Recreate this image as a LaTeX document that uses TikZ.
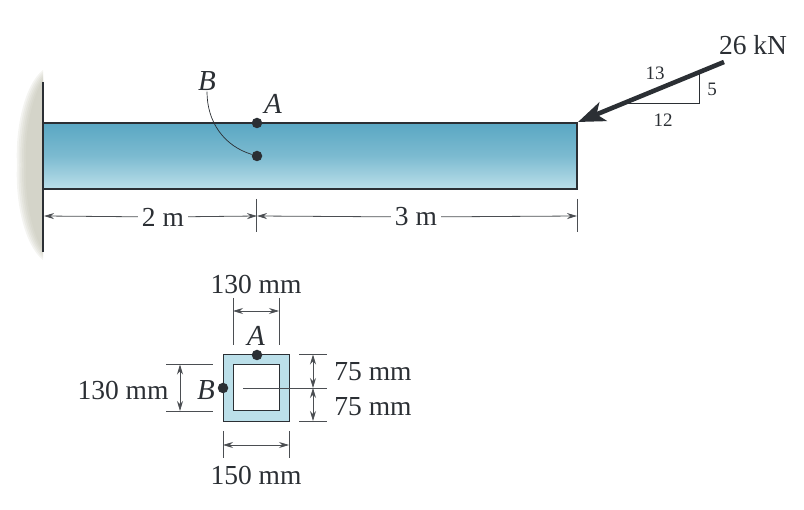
\documentclass[tikz,border=0pt]{standalone}
\usepackage{fontspec}
\setmainfont{Liberation Serif}
\usetikzlibrary{arrows.meta}
\definecolor{inkline}{HTML}{2B2F34}
\definecolor{beamtop}{HTML}{5AA7C3}
\definecolor{beambot}{HTML}{BBDFE9}
\definecolor{wallgrey}{HTML}{D2D2C6}
\tikzset{
  biglabel/.style={font=\fontsize{27.5}{27.5}\selectfont,text=inkline,inner sep=1pt},
  ptlabel/.style={font=\fontsize{29}{29}\selectfont\itshape,text=inkline,inner sep=1pt},
  smalllabel/.style={font=\fontsize{19}{19}\selectfont,text=inkline,inner sep=1pt},
  gaplabel/.style={biglabel,inner xsep=4pt},
  ptdot/.style={circle,fill=inkline,inner sep=0pt,minimum size=10.5pt},
  dimline/.style={draw=inkline!85,line width=0.8pt},
  dimarrow/.style={dimline,>={Stealth[length=10pt,width=6pt]}},
  member/.style={draw=inkline,line width=1.6pt}
}
\begin{document}
\begin{tikzpicture}[x=1pt,y=-1pt]
\useasboundingbox (0,0) rectangle (804,510);
\foreach \w/\o in {0/0.25,2/0.25,4/0.3,6/0.35,8/0.45,10/0.6}{
  \fill[wallgrey,opacity=\o] (43,{70+\w}) .. controls ({24+\w*0.9},{85+\w}) and ({15+\w*0.9},130) .. ({17+\w*0.9},165) .. controls ({15+\w*0.9},200) and ({24+\w*0.9},{245-\w}) .. (43,{260-\w}) -- cycle;
}
\fill[top color=beamtop,bottom color=beambot,middle color=beamtop!65!beambot] (43,123) rectangle (577,189);
\draw[member] (43,123) rectangle (577,189);
\coordinate (wallT) at (43,82);
\coordinate (wallB) at (43,252);
\draw[inkline,line width=1.8pt] (wallT) -- (wallB);
\node[ptdot] (ptA) at (257,123) {};
\node[ptdot] (ptB) at (257,156) {};
\node[ptlabel] (labB) at (207,81) {B};
\node[ptlabel] (labA) at (273,104) {A};
\draw[inkline,line width=0.7pt] (labB.south) .. controls (207,122) and (224,146) .. (ptB);
\coordinate (dimL) at (44,216);
\coordinate (dimM) at (257,216);
\coordinate (dimR) at (577,216);
\coordinate (tickMT) at (256,199);
\coordinate (tickMB) at (256,232);
\coordinate (tickRT) at (577,199);
\coordinate (tickRB) at (577,232);
\draw[dimline] (tickMT) -- (tickMB);
\draw[dimline] (tickRT) -- (tickRB);
\node[gaplabel] (lab2m) at (163,217) {2 m};
\node[gaplabel] (lab3m) at (416,217) {3 m};
\draw[dimarrow,<-] (dimL) -- (lab2m);
\draw[dimarrow,->] (lab2m) -- (dimM);
\draw[dimarrow,<-] (dimM) -- (lab3m);
\draw[dimarrow,->] (lab3m) -- (dimR);
\coordinate (forceS) at (724,62);
\coordinate (forceE) at (578,122);
\coordinate (triT) at (699,72);
\coordinate (triC) at (699,104);
\coordinate (triL) at (625,104);
\draw[inkline,line width=1pt] (triT) -- (triC) -- (triL);
\draw[inkline,line width=4.6pt,-{Stealth[length=27pt,width=20pt,inset=7pt]}] (forceS) -- (forceE);
\node[biglabel] (labF) at (753,45) {26 kN};
\node[smalllabel] (lab13) at (655,73) {13};
\node[smalllabel] (lab12) at (663,120) {12};
\node[smalllabel] (lab5) at (712,89) {5};
\draw[inkline,line width=1pt,fill=beambot] (223,354.5) rectangle (289.5,421.5);
\draw[inkline,line width=1pt,fill=white] (233,364.5) rectangle (279.5,411);
\node[ptdot] (secA) at (257,355) {};
\node[ptdot] (secB) at (223,388) {};
\node[ptlabel] (labsA) at (256,336) {A};
\node[ptlabel] (labsB) at (206,390) {B};
\node[biglabel] (topdim) at (256,284) {130 mm};
\node[biglabel] (botdim) at (256,475) {150 mm};
\node[biglabel] (leftdim) at (123,390) {130 mm};
\node[biglabel] (rightup) at (373,372) {75 mm};
\node[biglabel] (rightdn) at (373,407) {75 mm};
\coordinate (t1T) at (233,298);
\coordinate (t1B) at (233,345);
\coordinate (t2T) at (279,298);
\coordinate (t2B) at (279,345);
\coordinate (t1A) at (233,311);
\coordinate (t2A) at (279,311);
\draw[dimline] (t1T) -- (t1B);
\draw[dimline] (t2T) -- (t2B);
\draw[dimarrow,<->] (t1A) -- (t2A);
\coordinate (b1T) at (223,431);
\coordinate (b1B) at (223,458);
\coordinate (b2T) at (289,431);
\coordinate (b2B) at (289,458);
\coordinate (b1A) at (223,445);
\coordinate (b2A) at (289,445);
\draw[dimline] (b1T) -- (b1B);
\draw[dimline] (b2T) -- (b2B);
\draw[dimarrow,<->] (b1A) -- (b2A);
\coordinate (l1L) at (166,364.5);
\coordinate (l1R) at (213,364.5);
\coordinate (l2L) at (166,411);
\coordinate (l2R) at (213,411);
\coordinate (l1A) at (180,364.5);
\coordinate (l2A) at (180,411);
\draw[dimline] (l1L) -- (l1R);
\draw[dimline] (l2L) -- (l2R);
\draw[dimarrow,<->] (l1A) -- (l2A);
\coordinate (r1L) at (299,354.5);
\coordinate (r1R) at (327,354.5);
\coordinate (r2L) at (243,388);
\coordinate (r2R) at (327,388);
\coordinate (r3L) at (299,421);
\coordinate (r3R) at (327,421);
\coordinate (r1A) at (313,354.5);
\coordinate (r2A) at (313,388);
\coordinate (r3A) at (313,421);
\draw[dimline] (r1L) -- (r1R);
\draw[dimline] (r2L) -- (r2R);
\draw[dimline] (r3L) -- (r3R);
\draw[dimarrow,<->] (r1A) -- (r2A);
\draw[dimarrow,<->] (r2A) -- (r3A);
\end{tikzpicture}
\end{document}
